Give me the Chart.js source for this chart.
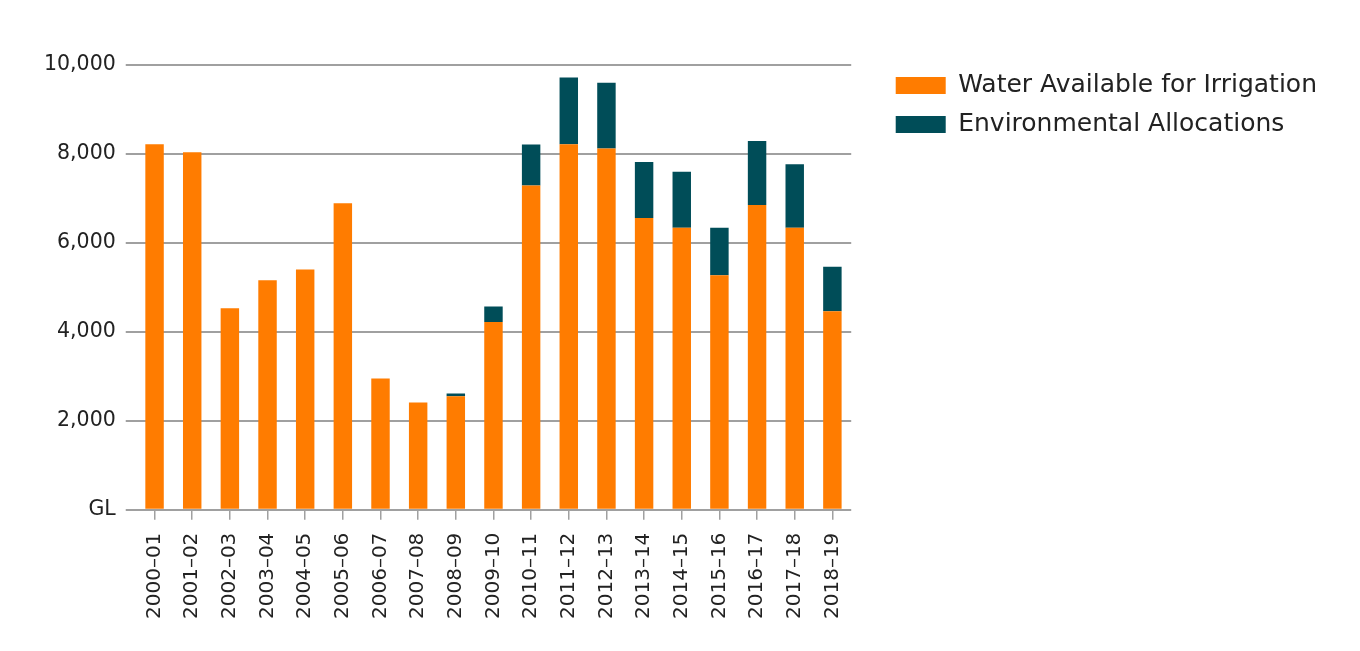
<!DOCTYPE html>
<html>
<head>
<meta charset="utf-8">
<script src="https://cdn.jsdelivr.net/npm/chart.js@4/dist/chart.umd.min.js"></script>
<style>
  html, body { margin: 0; padding: 0; background: #ffffff; }
  #wrap { width: 1360px; height: 651px; position: relative; }
</style>
</head>
<body>
<div id="wrap"><canvas id="c"></canvas></div>
<script>
const categories = ["2000–01","2001–02","2002–03","2003–04","2004–05","2005–06","2006–07","2007–08","2008–09","2009–10","2010–11","2011–12","2012–13","2013–14","2014–15","2015–16","2016–17","2017–18","2018–19"];
const irrigation = [8220, 8040, 4530, 5160, 5400, 6890, 2950, 2410, 2550, 4220, 7290, 8220, 8120, 6560, 6340, 5270, 6850, 6340, 4460];
const environmental = [0, 0, 0, 0, 0, 0, 0, 0, 60, 350, 920, 1500, 1480, 1260, 1260, 1070, 1440, 1430, 1000];
const yTicks = [0, 2000, 4000, 6000, 8000, 10000];

const FONT = "'DejaVu Sans', Verdana, sans-serif";
const TEXT = '#222222';
const GRID = '#a0a0a0';

new Chart(document.getElementById('c'), {
  type: 'bar',
  data: {
    labels: categories,
    datasets: [
      { label: 'Water Available for Irrigation', data: irrigation, backgroundColor: '#ff7c00', borderWidth: 0 },
      { label: 'Environmental Allocations', data: environmental, backgroundColor: '#004d58', borderWidth: 0 }
    ]
  },
  options: {
    responsive: true,
    maintainAspectRatio: false,
    animation: false,
    layout: { padding: { left: 34, right: 33, top: 59, bottom: 19 } },
    plugins: {
      tooltip: { enabled: false },
      legend: {
        position: 'right',
        align: 'start',
        maxWidth: 1000,
        labels: {
          boxWidth: 50,
          boxHeight: 17,
          padding: 14,
          color: TEXT,
          font: { family: FONT, size: 25 }
        }
      }
    },
    datasets: { bar: { categoryPercentage: 1.0, barPercentage: 0.49 } },
    scales: {
      x: {
        stacked: true,
        grid: { display: true, drawOnChartArea: false, drawTicks: true, offset: false, tickLength: 10, color: GRID, lineWidth: 1.5 },
        border: { display: false },
        ticks: { minRotation: 90, maxRotation: 90, color: TEXT, font: { family: FONT, size: 20 }, padding: 13 }
      },
      x2: {
        position: 'top',
        display: true,
        grid: { display: false },
        border: { display: false },
        ticks: { display: false },
        afterFit: (scale) => { scale.height = 6; }
      },
      y: {
        stacked: true,
        min: 0,
        max: 10000,
        afterBuildTicks: (scale) => { scale.ticks = yTicks.map(v => ({ value: v })); },
        grid: { color: GRID, lineWidth: 2, tickLength: 10, drawTicks: true },
        border: { display: false },
        ticks: {
          color: TEXT,
          padding: 10,
          font: { family: FONT, size: 20.5 },
          callback: (v) => v === 0 ? 'GL' : Number(v).toLocaleString('en-US')
        }
      },
      y2: {
        position: 'right',
        display: true,
        grid: { display: false },
        border: { display: false },
        ticks: { display: false },
        afterFit: (scale) => { scale.width = 30.5; }
      }
    }
  }
});
</script>
</body>
</html>
